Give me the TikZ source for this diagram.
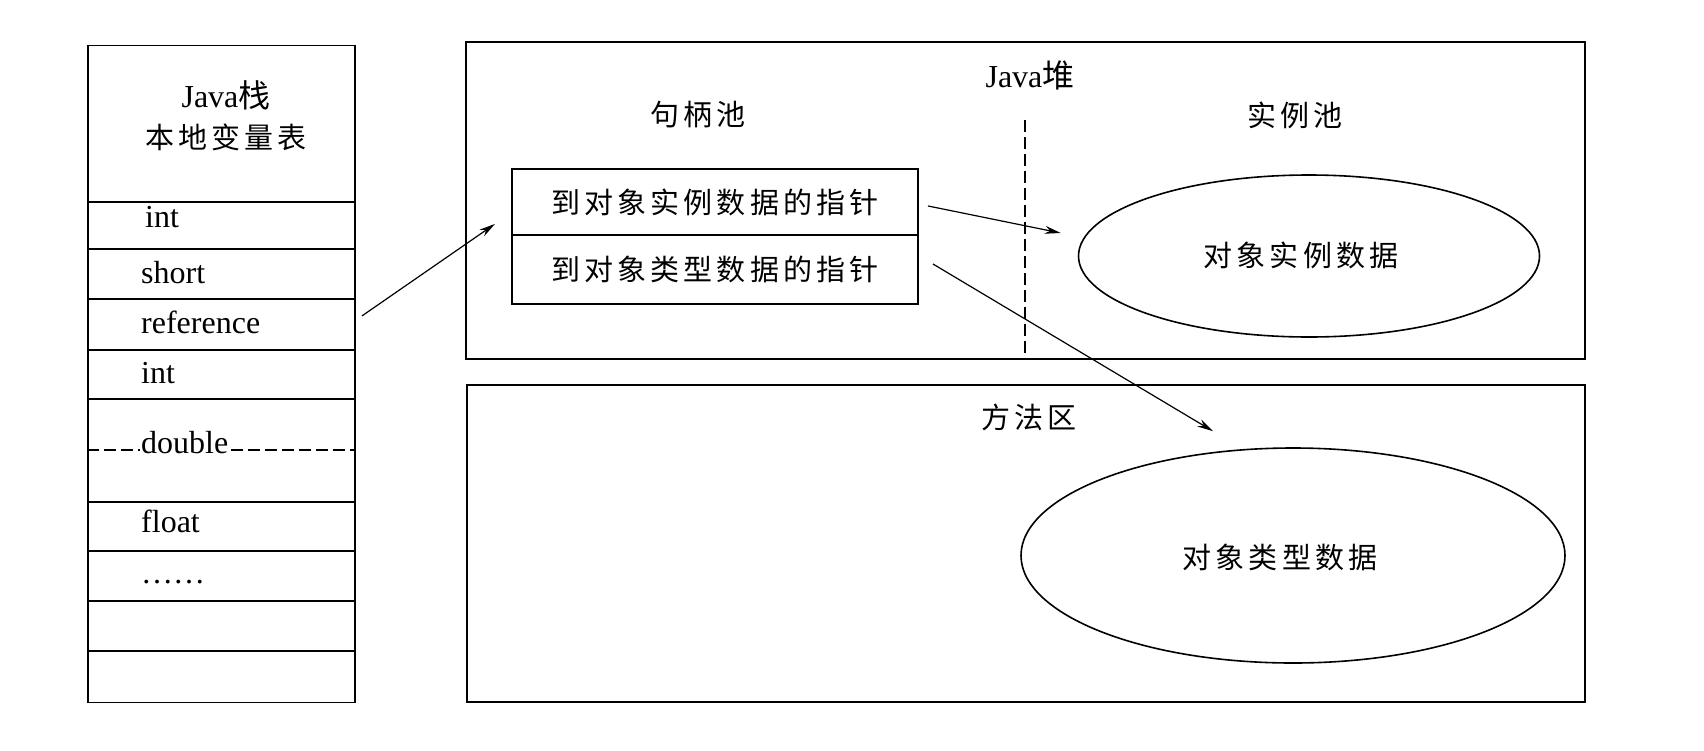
\documentclass[tikz,border=0pt]{standalone}
\usepackage{fontspec}
\setmainfont{Liberation Serif}
\newfontfamily\cjk[LetterSpace=14]{Noto Sans CJK SC}
\usetikzlibrary{arrows.meta,calc,shapes.geometric}
\begin{document}
\begin{tikzpicture}[x=1pt,y=-1pt,
  box/.style={draw, line width=1.9pt, rectangle, inner sep=0pt, anchor=north west},
  lat/.style={font=\fontsize{32}{36}\selectfont, inner sep=0pt},
  cjkt/.style={font=\fontsize{29}{34}\selectfont\cjk, inner sep=0pt},
  ell/.style={draw, ellipse, line width=1.6pt, inner sep=0pt},
  arr/.style={-{Stealth[length=16pt,width=8pt]}, line width=1.2pt},
  sep/.style={line width=1.6pt},
  dsh/.style={dash pattern=on 12pt off 5pt, line width=1.4pt}]
\useasboundingbox (0,0) rectangle (1704,750);

% Java stack
\node[box, minimum width=267pt, minimum height=657pt] (stack) at (87,44.5) {};
\foreach \yy in {202,249,299,350,399,502,551,601,651}
  \draw[sep] (87,\yy) -- (354,\yy);
\node[lat, anchor=base] (jstack) at (226,107) {Java{\cjk 栈}};
\node[cjkt] (lvt) at (226,137) {本地变量表};
\node[lat, anchor=base west] (r1) at (145,227) {int};
\node[lat, anchor=base west] (r2) at (141,283) {short};
\node[lat, anchor=base west] (r3) at (141,333.5) {reference};
\node[lat, anchor=base west] (r4) at (141,383) {int};
\node[lat, anchor=base west] (r5) at (141,453) {double};
\node[lat, anchor=base west] (r6) at (141,532) {float};
\node[lat, anchor=base west] (r7) at (141,583) {……};
\draw[dsh] (87,450) -- ($(r5.base west)+(-1,-3)$);
\draw[dsh] ($(r5.base east)+(3,-3)$) -- (354,450);

% Java heap
\node[box, minimum width=1119pt, minimum height=317pt] (heap) at (465,41) {};
\node[lat, anchor=base] (jheap) at (1030,87) {Java{\cjk 堆}};
\draw[dsh] (1025,120) -- (1025,356);
\node[cjkt] (hpool) at (698,115) {句柄池};
\node[cjkt] (ipool) at (1295,115) {实例池};
\node[box, cjkt, minimum width=406pt, minimum height=66pt] (h1) at (511,168) {到对象实例数据的指针};
\node[box, cjkt, minimum width=406pt, minimum height=69pt] (h2) at (511,234) {到对象类型数据的指针};
\node[ell, minimum width=461pt, minimum height=162pt] (inst) at (1309,256) {};
\node[cjkt] (instt) at (1301,255) {对象实例数据};

% Method area
\node[box, minimum width=1118pt, minimum height=317pt] (method) at (466,384) {};
\node[cjkt] (mlabel) at (1029,417) {方法区};
\node[ell, minimum width=544pt, minimum height=215pt] (cls) at (1293,555.5) {};
\node[cjkt] (clst) at (1280,557) {对象类型数据};

% arrows
\draw[arr] ($(stack.east)+(6,-58)$) -- ($(h1.south west)+(-16,-12)$);
\draw[arr] ($(h1.east)+(9,4)$) -- ($(inst.west)+(-17,-23)$);
\draw[arr] ($(h2.east)+(14,-5.5)$) -- ($(cls.north)+(-80,-16)$);
\end{tikzpicture}
\end{document}
